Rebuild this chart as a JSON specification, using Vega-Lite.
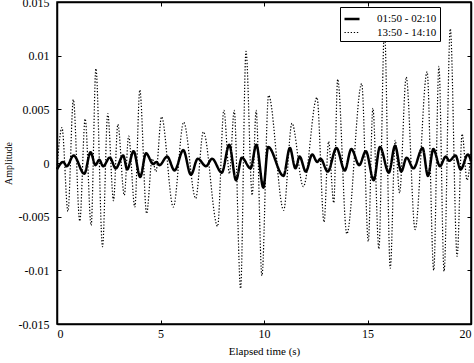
{
  "$schema": "https://vega.github.io/schema/vega-lite/v6.json",
  "width": 414,
  "height": 322,
  "autosize": {"type": "none"},
  "padding": {"left": 57, "top": 2, "right": 3, "bottom": 39},
  "background": "white",
  "config": {
    "view": {"stroke": "black", "strokeWidth": 1.5},
    "font": "Liberation Serif",
    "axis": {
      "grid": false,
      "domainColor": "black",
      "domainWidth": 1.5,
      "tickColor": "black",
      "tickSize": -4,
      "labelFont": "Liberation Serif",
      "labelFontSize": 12,
      "labelColor": "black",
      "titleFont": "Liberation Serif",
      "titleFontSize": 11,
      "titleFontWeight": "normal",
      "titleColor": "black"
    }
  },
  "datasets": {
    "series": [
      {"t": 0.0, "v": -0.0005, "s": "13:50 - 14:10"},
      {"t": 0.24, "v": 0.0033, "s": "13:50 - 14:10"},
      {"t": 0.53, "v": -0.0045, "s": "13:50 - 14:10"},
      {"t": 0.79, "v": 0.0059, "s": "13:50 - 14:10"},
      {"t": 1.1, "v": -0.0054, "s": "13:50 - 14:10"},
      {"t": 1.36, "v": 0.0041, "s": "13:50 - 14:10"},
      {"t": 1.65, "v": -0.0058, "s": "13:50 - 14:10"},
      {"t": 1.88, "v": 0.0088, "s": "13:50 - 14:10"},
      {"t": 2.2, "v": -0.0078, "s": "13:50 - 14:10"},
      {"t": 2.45, "v": 0.0046, "s": "13:50 - 14:10"},
      {"t": 2.73, "v": -0.0035, "s": "13:50 - 14:10"},
      {"t": 2.94, "v": 0.0036, "s": "13:50 - 14:10"},
      {"t": 3.25, "v": -0.003, "s": "13:50 - 14:10"},
      {"t": 3.46, "v": 0.0025, "s": "13:50 - 14:10"},
      {"t": 3.76, "v": -0.0041, "s": "13:50 - 14:10"},
      {"t": 4.0, "v": 0.0068, "s": "13:50 - 14:10"},
      {"t": 4.33, "v": -0.0047, "s": "13:50 - 14:10"},
      {"t": 4.6, "v": 0.0004, "s": "13:50 - 14:10"},
      {"t": 4.78, "v": -0.0008, "s": "13:50 - 14:10"},
      {"t": 5.05, "v": 0.0043, "s": "13:50 - 14:10"},
      {"t": 5.62, "v": -0.0041, "s": "13:50 - 14:10"},
      {"t": 6.12, "v": 0.0038, "s": "13:50 - 14:10"},
      {"t": 6.7, "v": -0.0033, "s": "13:50 - 14:10"},
      {"t": 7.07, "v": 0.0029, "s": "13:50 - 14:10"},
      {"t": 7.76, "v": -0.0059, "s": "13:50 - 14:10"},
      {"t": 8.06, "v": 0.0049, "s": "13:50 - 14:10"},
      {"t": 8.33, "v": -0.001, "s": "13:50 - 14:10"},
      {"t": 8.56, "v": 0.0049, "s": "13:50 - 14:10"},
      {"t": 8.87, "v": -0.0117, "s": "13:50 - 14:10"},
      {"t": 9.13, "v": 0.0104, "s": "13:50 - 14:10"},
      {"t": 9.43, "v": -0.003, "s": "13:50 - 14:10"},
      {"t": 9.62, "v": 0.0049, "s": "13:50 - 14:10"},
      {"t": 9.9, "v": -0.0105, "s": "13:50 - 14:10"},
      {"t": 10.22, "v": 0.0063, "s": "13:50 - 14:10"},
      {"t": 10.95, "v": -0.0044, "s": "13:50 - 14:10"},
      {"t": 11.35, "v": 0.0037, "s": "13:50 - 14:10"},
      {"t": 11.9, "v": -0.0022, "s": "13:50 - 14:10"},
      {"t": 12.56, "v": 0.0061, "s": "13:50 - 14:10"},
      {"t": 12.9, "v": -0.0055, "s": "13:50 - 14:10"},
      {"t": 13.12, "v": 0.002, "s": "13:50 - 14:10"},
      {"t": 13.37, "v": -0.0037, "s": "13:50 - 14:10"},
      {"t": 13.56, "v": 0.0078, "s": "13:50 - 14:10"},
      {"t": 14.0, "v": -0.0066, "s": "13:50 - 14:10"},
      {"t": 14.72, "v": 0.0074, "s": "13:50 - 14:10"},
      {"t": 15.04, "v": -0.0073, "s": "13:50 - 14:10"},
      {"t": 15.26, "v": 0.0051, "s": "13:50 - 14:10"},
      {"t": 15.55, "v": -0.008, "s": "13:50 - 14:10"},
      {"t": 15.82, "v": 0.0125, "s": "13:50 - 14:10"},
      {"t": 16.1, "v": -0.0098, "s": "13:50 - 14:10"},
      {"t": 16.34, "v": 0.0021, "s": "13:50 - 14:10"},
      {"t": 16.55, "v": -0.0028, "s": "13:50 - 14:10"},
      {"t": 16.87, "v": 0.008, "s": "13:50 - 14:10"},
      {"t": 17.3, "v": -0.0062, "s": "13:50 - 14:10"},
      {"t": 17.88, "v": 0.0085, "s": "13:50 - 14:10"},
      {"t": 18.2, "v": -0.01, "s": "13:50 - 14:10"},
      {"t": 18.45, "v": 0.009, "s": "13:50 - 14:10"},
      {"t": 18.7, "v": -0.0101, "s": "13:50 - 14:10"},
      {"t": 19.0, "v": 0.0125, "s": "13:50 - 14:10"},
      {"t": 19.33, "v": -0.0087, "s": "13:50 - 14:10"},
      {"t": 19.57, "v": 0.0027, "s": "13:50 - 14:10"},
      {"t": 19.81, "v": -0.0016, "s": "13:50 - 14:10"},
      {"t": 20.0, "v": 0.001, "s": "13:50 - 14:10"},
      {"t": 0.0, "v": -0.0006, "s": "01:50 - 02:10"},
      {"t": 0.3, "v": 0.0001, "s": "01:50 - 02:10"},
      {"t": 0.47, "v": -0.0003, "s": "01:50 - 02:10"},
      {"t": 0.8, "v": 0.0007, "s": "01:50 - 02:10"},
      {"t": 1.32, "v": -0.001, "s": "01:50 - 02:10"},
      {"t": 1.62, "v": 0.001, "s": "01:50 - 02:10"},
      {"t": 1.86, "v": -0.0002, "s": "01:50 - 02:10"},
      {"t": 2.04, "v": 0.0003, "s": "01:50 - 02:10"},
      {"t": 2.23, "v": -0.0003, "s": "01:50 - 02:10"},
      {"t": 2.55, "v": 0.0005, "s": "01:50 - 02:10"},
      {"t": 2.84, "v": -0.0005, "s": "01:50 - 02:10"},
      {"t": 3.2, "v": 0.0007, "s": "01:50 - 02:10"},
      {"t": 3.39, "v": -0.0006, "s": "01:50 - 02:10"},
      {"t": 3.7, "v": 0.0011, "s": "01:50 - 02:10"},
      {"t": 4.02, "v": -0.0013, "s": "01:50 - 02:10"},
      {"t": 4.3, "v": 0.0009, "s": "01:50 - 02:10"},
      {"t": 4.65, "v": -0.0001, "s": "01:50 - 02:10"},
      {"t": 4.8, "v": 0.0001, "s": "01:50 - 02:10"},
      {"t": 4.95, "v": -0.0002, "s": "01:50 - 02:10"},
      {"t": 5.32, "v": 0.0006, "s": "01:50 - 02:10"},
      {"t": 5.68, "v": -0.0007, "s": "01:50 - 02:10"},
      {"t": 6.1, "v": 0.0012, "s": "01:50 - 02:10"},
      {"t": 6.47, "v": -0.0011, "s": "01:50 - 02:10"},
      {"t": 6.8, "v": 0.0004, "s": "01:50 - 02:10"},
      {"t": 7.2, "v": -0.0003, "s": "01:50 - 02:10"},
      {"t": 7.49, "v": 0.0004, "s": "01:50 - 02:10"},
      {"t": 7.96, "v": -0.0009, "s": "01:50 - 02:10"},
      {"t": 8.32, "v": 0.0017, "s": "01:50 - 02:10"},
      {"t": 8.65, "v": -0.0016, "s": "01:50 - 02:10"},
      {"t": 8.93, "v": 0.0005, "s": "01:50 - 02:10"},
      {"t": 9.35, "v": -0.0005, "s": "01:50 - 02:10"},
      {"t": 9.63, "v": 0.0017, "s": "01:50 - 02:10"},
      {"t": 9.97, "v": -0.0023, "s": "01:50 - 02:10"},
      {"t": 10.2, "v": 0.0015, "s": "01:50 - 02:10"},
      {"t": 10.94, "v": -0.0012, "s": "01:50 - 02:10"},
      {"t": 11.25, "v": 0.0014, "s": "01:50 - 02:10"},
      {"t": 11.52, "v": -0.0005, "s": "01:50 - 02:10"},
      {"t": 11.72, "v": 0.0006, "s": "01:50 - 02:10"},
      {"t": 12.02, "v": -0.0008, "s": "01:50 - 02:10"},
      {"t": 12.33, "v": 0.0008, "s": "01:50 - 02:10"},
      {"t": 12.57, "v": 0.0001, "s": "01:50 - 02:10"},
      {"t": 12.73, "v": 0.0004, "s": "01:50 - 02:10"},
      {"t": 13.08, "v": -0.0008, "s": "01:50 - 02:10"},
      {"t": 13.5, "v": 0.0014, "s": "01:50 - 02:10"},
      {"t": 13.9, "v": -0.0007, "s": "01:50 - 02:10"},
      {"t": 14.22, "v": 0.0013, "s": "01:50 - 02:10"},
      {"t": 14.6, "v": -0.0002, "s": "01:50 - 02:10"},
      {"t": 14.92, "v": 0.0011, "s": "01:50 - 02:10"},
      {"t": 15.3, "v": -0.0016, "s": "01:50 - 02:10"},
      {"t": 15.6, "v": 0.0015, "s": "01:50 - 02:10"},
      {"t": 16.03, "v": -0.0009, "s": "01:50 - 02:10"},
      {"t": 16.33, "v": 0.0016, "s": "01:50 - 02:10"},
      {"t": 16.63, "v": -0.0008, "s": "01:50 - 02:10"},
      {"t": 16.89, "v": 0.0005, "s": "01:50 - 02:10"},
      {"t": 17.22, "v": -0.0005, "s": "01:50 - 02:10"},
      {"t": 17.66, "v": 0.0014, "s": "01:50 - 02:10"},
      {"t": 17.92, "v": -0.0012, "s": "01:50 - 02:10"},
      {"t": 18.18, "v": 0.0013, "s": "01:50 - 02:10"},
      {"t": 18.5, "v": -0.0003, "s": "01:50 - 02:10"},
      {"t": 18.78, "v": 0.0006, "s": "01:50 - 02:10"},
      {"t": 18.95, "v": 0.0002, "s": "01:50 - 02:10"},
      {"t": 19.25, "v": 0.0007, "s": "01:50 - 02:10"},
      {"t": 19.5, "v": -0.0006, "s": "01:50 - 02:10"},
      {"t": 19.85, "v": 0.0008, "s": "01:50 - 02:10"},
      {"t": 20.0, "v": 0.0002, "s": "01:50 - 02:10"}
    ]
  },
  "data": {"name": "series"},
  "layer": [
    {
      "mark": {"type": "line", "interpolate": "monotone", "color": "black"},
      "encoding": {
        "x": {
          "field": "t", "type": "quantitative",
          "scale": {"domain": [0, 20], "nice": false},
          "axis": {"values": [0, 5, 10, 15, 20], "title": "Elapsed time (s)", "labelPadding": 8, "titlePadding": 6}
        },
        "y": {
          "field": "v", "type": "quantitative",
          "scale": {"domain": [-0.015, 0.015], "nice": false},
          "axis": {
            "values": [-0.015, -0.01, -0.005, 0, 0.005, 0.01, 0.015],
            "labelExpr": "'' + datum.value",
            "title": "Amplitude", "labelPadding": 12, "titlePadding": 5, "titleFontSize": 10
          }
        },
        "strokeDash": {
          "field": "s", "type": "nominal",
          "scale": {"domain": ["01:50 - 02:10", "13:50 - 14:10"], "range": [[1, 0], [1.3, 1.8]]},
          "legend": {
            "title": null, "orient": "none", "legendX": 283, "legendY": 5,
            "strokeColor": "black", "fillColor": "white", "padding": 3,
            "symbolType": "stroke", "symbolSize": 225, "symbolStrokeColor": "black",
            "labelFont": "Liberation Serif", "labelFontSize": 11, "labelColor": "black",
            "labelOffset": 16, "rowPadding": 0
          }
        },
        "strokeWidth": {
          "field": "s", "type": "nominal",
          "scale": {"domain": ["01:50 - 02:10", "13:50 - 14:10"], "range": [2.5, 1.2]},
          "legend": {
            "title": null, "orient": "none", "legendX": 283, "legendY": 5,
            "strokeColor": "black", "fillColor": "white", "padding": 3,
            "symbolType": "stroke", "symbolSize": 225, "symbolStrokeColor": "black",
            "labelFont": "Liberation Serif", "labelFontSize": 11, "labelColor": "black",
            "labelOffset": 16, "rowPadding": 0
          }
        }
      }
    },
    {
      "mark": {"type": "point", "opacity": 0},
      "encoding": {
        "x": {
          "field": "t", "type": "quantitative",
          "scale": {"domain": [0, 20], "nice": false},
          "axis": {"orient": "top", "values": [0, 5, 10, 15, 20], "labels": false, "title": null}
        },
        "y": {
          "field": "v", "type": "quantitative",
          "scale": {"domain": [-0.015, 0.015], "nice": false},
          "axis": {"orient": "right", "values": [-0.015, -0.01, -0.005, 0, 0.005, 0.01, 0.015], "labels": false, "title": null}
        }
      }
    }
  ],
  "resolve": {"scale": {"x": "independent", "y": "independent"}}
}
